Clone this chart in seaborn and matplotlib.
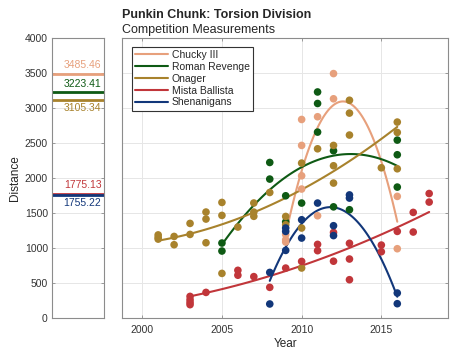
import numpy as np
import pandas as pd
import seaborn as sns
import matplotlib.pyplot as plt

# Datos
teams = ['Chucky III', 'Roman Revenge', 'Onager', 'Mista Ballista', 'Shenanigans']
colors = ['#E7A07C', '#0E5A14', '#A8822C', '#C1363A', '#12377A']

chucky_years = [2009, 2009, 2009, 2010, 2010, 2010, 2010, 2011, 2011, 2012, 2012, 2016, 2016]
chucky_vals = [1190, 1116, 1083, 2831, 2461, 2028, 1839, 2870, 1458, 3485.46, 3126, 1734, 988]

roman_years = [2005, 2005, 2008, 2008, 2009, 2009, 2010, 2011, 2011, 2011, 2012, 2012, 2013, 2016, 2016, 2016]
roman_vals = [1069, 955, 2218, 1981, 1743, 1370, 1639, 3223.41, 3059, 2651, 2385, 1585, 1544, 2537, 2328, 1867]

onager_years = [2001, 2001, 2001, 2002, 2002, 2003, 2003, 2004, 2004, 2004, 2005, 2005, 2005, 2006,
                2007, 2007, 2007, 2008, 2009, 2009, 2010, 2010, 2010, 2011, 2012, 2012, 2012,
                2013, 2013, 2013, 2015, 2016, 2016, 2016]
onager_vals = [1185, 1150, 1125, 1163, 1045, 1349, 1192, 1511, 1411, 1073, 1648, 1463, 636, 1297,
               1640, 1510, 1450, 1790, 1448, 1330, 2209, 1283, 713, 2413, 2461, 2171, 1924,
               3105.34, 2922, 2609, 2142, 2794, 2646, 2128]

mista_years = [2003, 2003, 2003, 2003, 2004, 2006, 2006, 2007, 2008, 2009, 2010, 2011, 2011,
               2012, 2012, 2013, 2013, 2013, 2015, 2015, 2016, 2017, 2017, 2018, 2018]
mista_vals = [308, 261, 222, 190, 365, 680, 610, 590, 437, 712, 807, 1050, 960,
              1220, 810, 1065, 841, 546, 1040, 945, 1235, 1506, 1226, 1775.13, 1653]

shen_years = [2008, 2008, 2009, 2009, 2009, 2010, 2010, 2011, 2012, 2012, 2013, 2013, 2016, 2016]
shen_vals = [650, 200, 1283, 1235, 964, 1401, 1140, 1639, 1316, 1175, 1755.22, 1710, 356, 204]

all_years = [chucky_years, roman_years, onager_years, mista_years, shen_years]
all_vals = [chucky_vals, roman_vals, onager_vals, mista_vals, shen_vals]

frames = []
for t, yrs, vals in zip(teams, all_years, all_vals):
    frames.append(pd.DataFrame({'Team': t, 'Year': yrs, 'Distance': vals}))
df = pd.concat(frames, ignore_index=True)

sns.set_theme(style='whitegrid')
plt.rcParams['font.family'] = ['Liberation Sans', 'DejaVu Sans']

fig = plt.figure(figsize=(4.74, 3.55), dpi=100)
ax_l = fig.add_axes([52 / 474, 1 - 318 / 355, 52 / 474, 280.5 / 355])
ax = fig.add_axes([122.3 / 474, 1 - 318 / 355, 326 / 474, 280.5 / 355])

pal = dict(zip(teams, colors))

# Panel principal: puntos + ajuste cuadratico
sns.scatterplot(data=df, x='Year', y='Distance', hue='Team', palette=pal, s=30,
                edgecolor='none', legend=False, ax=ax, zorder=3)
for t, c in zip(teams, colors):
    sub = df[df['Team'] == t]
    sns.regplot(data=sub, x='Year', y='Distance', order=2, ci=None, scatter=False,
                color=c, line_kws={'lw': 1.5, 'zorder': 2}, label=t, ax=ax)

ax.set_xlim(1998.75, 2019.2)
ax.set_ylim(0, 4000)
ax.set_xticks([2000, 2005, 2010, 2015])
ax.set_yticks(range(0, 4001, 500))
ax.set_yticklabels([])
ax.set_xlabel('Year', fontsize=8.5, labelpad=2)
ax.set_ylabel('')
leg = ax.legend(loc='upper left', bbox_to_anchor=(0.029, 0.967), fontsize=7.5,
                handlelength=3.2, labelspacing=0.18, borderpad=0.3, handletextpad=0.35,
                fancybox=False, framealpha=1, borderaxespad=0)
leg.get_frame().set_edgecolor('#333333')
leg.get_frame().set_linewidth(0.8)

# Panel izquierdo con los maximos
maxs = [max(v) for v in all_vals]
above = [True, True, False, True, False]
for m, c, up in zip(maxs, colors, above):
    ax_l.axhline(m, color=c, lw=2)
    off = 45 if up else -45
    ax_l.text(0.95, m + off, f'{m:.2f}', color=c, fontsize=7.5, ha='right',
              va='bottom' if up else 'top', transform=ax_l.get_yaxis_transform())
ax_l.set_ylim(0, 4000)
ax_l.set_yticks(range(0, 4001, 500))
ax_l.set_xticks([])
ax_l.set_ylabel('Distance', fontsize=8.5, labelpad=3)

for a in (ax, ax_l):
    a.grid(True, color='#e6e6e6', lw=0.7)
    a.set_facecolor('white')
    for s in a.spines.values():
        s.set_color('#8c8c8c')
        s.set_linewidth(0.8)
    a.tick_params(direction='in', length=2.5, width=0.6, color='#8c8c8c',
                  labelsize=7.5, top=True, right=True, pad=3, labelcolor='#333333')
ax.tick_params(axis='x', pad=5, bottom=True)
ax_l.tick_params(axis='y', left=True)

fig.text(122 / 474, 1 - 14.5 / 355, 'Punkin Chunk: Torsion Division', fontsize=9,
         fontweight='bold', va='center', ha='left')
fig.text(122 / 474, 1 - 29.5 / 355, 'Competition Measurements', fontsize=9,
         va='center', ha='left')

fig.savefig('out.png', dpi=100)
